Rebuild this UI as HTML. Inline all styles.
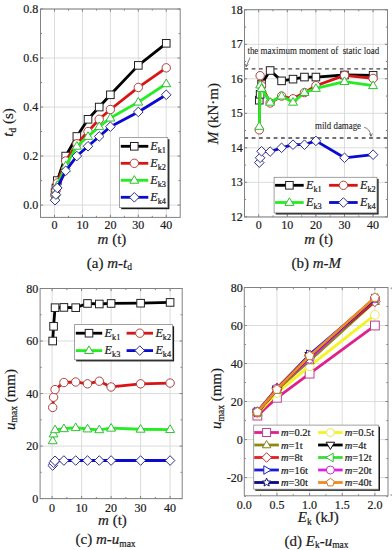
<!DOCTYPE html><html><head><meta charset="utf-8"><style>html,body{margin:0;padding:0;background:#fff}svg{display:block}text{font-family:"Liberation Serif",serif;stroke:#222;stroke-width:0.2px;paint-order:stroke}</style></head><body>
<svg width="392" height="550" viewBox="0 0 392 550">
<rect width="392" height="550" fill="#fff"/>
<line x1="54.5" y1="9" x2="54.5" y2="217.4" stroke="#d8d8d8" stroke-width="0.9"/>
<line x1="82.44" y1="9" x2="82.44" y2="217.4" stroke="#d8d8d8" stroke-width="0.9"/>
<line x1="110.38" y1="9" x2="110.38" y2="217.4" stroke="#d8d8d8" stroke-width="0.9"/>
<line x1="138.31" y1="9" x2="138.31" y2="217.4" stroke="#d8d8d8" stroke-width="0.9"/>
<line x1="166.25" y1="9" x2="166.25" y2="217.4" stroke="#d8d8d8" stroke-width="0.9"/>
<line x1="40.5" y1="205.1" x2="180.2" y2="205.1" stroke="#d8d8d8" stroke-width="0.9"/>
<line x1="40.5" y1="156.07" x2="180.2" y2="156.07" stroke="#d8d8d8" stroke-width="0.9"/>
<line x1="40.5" y1="107.05" x2="180.2" y2="107.05" stroke="#d8d8d8" stroke-width="0.9"/>
<line x1="40.5" y1="58.03" x2="180.2" y2="58.03" stroke="#d8d8d8" stroke-width="0.9"/>
<line x1="40.5" y1="9" x2="180.2" y2="9" stroke="#d8d8d8" stroke-width="0.9"/>
<polyline points="55.06,192.84 55.9,187.94 57.29,180.59 65.67,156.07 76.85,136.46 88.03,119.31 99.2,107.05 110.38,94.79 138.31,65.38 166.25,43.32" fill="none" stroke="#000000" stroke-width="2.8" stroke-linejoin="round"/>
<rect x="51.26" y="189.04" width="7.6" height="7.6" fill="#fff" stroke="#222222" stroke-width="1.0"/>
<rect x="52.1" y="184.14" width="7.6" height="7.6" fill="#fff" stroke="#222222" stroke-width="1.0"/>
<rect x="53.49" y="176.79" width="7.6" height="7.6" fill="#fff" stroke="#222222" stroke-width="1.0"/>
<rect x="61.88" y="152.27" width="7.6" height="7.6" fill="#fff" stroke="#222222" stroke-width="1.0"/>
<rect x="73.05" y="132.66" width="7.6" height="7.6" fill="#fff" stroke="#222222" stroke-width="1.0"/>
<rect x="84.23" y="115.51" width="7.6" height="7.6" fill="#fff" stroke="#222222" stroke-width="1.0"/>
<rect x="95.4" y="103.25" width="7.6" height="7.6" fill="#fff" stroke="#222222" stroke-width="1.0"/>
<rect x="106.58" y="90.99" width="7.6" height="7.6" fill="#fff" stroke="#222222" stroke-width="1.0"/>
<rect x="134.51" y="61.58" width="7.6" height="7.6" fill="#fff" stroke="#222222" stroke-width="1.0"/>
<rect x="162.45" y="39.52" width="7.6" height="7.6" fill="#fff" stroke="#222222" stroke-width="1.0"/>
<polyline points="55.06,195.29 55.9,190.39 57.29,183.04 65.67,160.98 76.85,143.82 88.03,131.56 99.2,119.31 110.38,109.5 138.31,87.44 166.25,67.83" fill="none" stroke="#d81414" stroke-width="2.8" stroke-linejoin="round"/>
<circle cx="55.06" cy="195.29" r="4.2" fill="#fff" stroke="#b04040" stroke-width="1.0"/>
<circle cx="55.9" cy="190.39" r="4.2" fill="#fff" stroke="#b04040" stroke-width="1.0"/>
<circle cx="57.29" cy="183.04" r="4.2" fill="#fff" stroke="#b04040" stroke-width="1.0"/>
<circle cx="65.67" cy="160.98" r="4.2" fill="#fff" stroke="#b04040" stroke-width="1.0"/>
<circle cx="76.85" cy="143.82" r="4.2" fill="#fff" stroke="#b04040" stroke-width="1.0"/>
<circle cx="88.03" cy="131.56" r="4.2" fill="#fff" stroke="#b04040" stroke-width="1.0"/>
<circle cx="99.2" cy="119.31" r="4.2" fill="#fff" stroke="#b04040" stroke-width="1.0"/>
<circle cx="110.38" cy="109.5" r="4.2" fill="#fff" stroke="#b04040" stroke-width="1.0"/>
<circle cx="138.31" cy="87.44" r="4.2" fill="#fff" stroke="#b04040" stroke-width="1.0"/>
<circle cx="166.25" cy="67.83" r="4.2" fill="#fff" stroke="#b04040" stroke-width="1.0"/>
<polyline points="55.06,197.75 55.9,192.84 57.29,185.49 65.67,165.88 76.85,146.27 88.03,136.46 99.2,126.66 110.38,118.08 138.31,102.15 166.25,83.76" fill="none" stroke="#22ee22" stroke-width="2.8" stroke-linejoin="round"/>
<polygon points="55.06,193.04 59.53,200.66 50.59,200.66" fill="#fff" stroke="#30c030" stroke-width="1.0" stroke-linejoin="miter"/>
<polygon points="55.9,188.14 60.37,195.76 51.43,195.76" fill="#fff" stroke="#30c030" stroke-width="1.0" stroke-linejoin="miter"/>
<polygon points="57.29,180.79 61.76,188.41 52.82,188.41" fill="#fff" stroke="#30c030" stroke-width="1.0" stroke-linejoin="miter"/>
<polygon points="65.67,161.18 70.14,168.8 61.21,168.8" fill="#fff" stroke="#30c030" stroke-width="1.0" stroke-linejoin="miter"/>
<polygon points="76.85,141.57 81.32,149.19 72.38,149.19" fill="#fff" stroke="#30c030" stroke-width="1.0" stroke-linejoin="miter"/>
<polygon points="88.03,131.76 92.49,139.38 83.56,139.38" fill="#fff" stroke="#30c030" stroke-width="1.0" stroke-linejoin="miter"/>
<polygon points="99.2,121.96 103.67,129.58 94.73,129.58" fill="#fff" stroke="#30c030" stroke-width="1.0" stroke-linejoin="miter"/>
<polygon points="110.38,113.38 114.84,121 105.91,121" fill="#fff" stroke="#30c030" stroke-width="1.0" stroke-linejoin="miter"/>
<polygon points="138.31,97.44 142.78,105.06 133.84,105.06" fill="#fff" stroke="#30c030" stroke-width="1.0" stroke-linejoin="miter"/>
<polygon points="166.25,79.06 170.72,86.68 161.78,86.68" fill="#fff" stroke="#30c030" stroke-width="1.0" stroke-linejoin="miter"/>
<polyline points="55.06,200.2 55.9,194.56 57.29,187.94 65.67,170.78 76.85,156.07 88.03,146.27 99.2,136.46 110.38,126.66 138.31,111.95 166.25,94.79" fill="none" stroke="#0a0ad0" stroke-width="2.8" stroke-linejoin="round"/>
<polygon points="55.06,195.4 59.86,200.2 55.06,205 50.26,200.2" fill="#fff" stroke="#303090" stroke-width="1.0" stroke-linejoin="miter"/>
<polygon points="55.9,189.76 60.7,194.56 55.9,199.36 51.1,194.56" fill="#fff" stroke="#303090" stroke-width="1.0" stroke-linejoin="miter"/>
<polygon points="57.29,183.14 62.09,187.94 57.29,192.74 52.49,187.94" fill="#fff" stroke="#303090" stroke-width="1.0" stroke-linejoin="miter"/>
<polygon points="65.67,165.98 70.47,170.78 65.67,175.58 60.88,170.78" fill="#fff" stroke="#303090" stroke-width="1.0" stroke-linejoin="miter"/>
<polygon points="76.85,151.27 81.65,156.07 76.85,160.88 72.05,156.07" fill="#fff" stroke="#303090" stroke-width="1.0" stroke-linejoin="miter"/>
<polygon points="88.03,141.47 92.83,146.27 88.03,151.07 83.23,146.27" fill="#fff" stroke="#303090" stroke-width="1.0" stroke-linejoin="miter"/>
<polygon points="99.2,131.66 104,136.46 99.2,141.26 94.4,136.46" fill="#fff" stroke="#303090" stroke-width="1.0" stroke-linejoin="miter"/>
<polygon points="110.38,121.86 115.17,126.66 110.38,131.46 105.58,126.66" fill="#fff" stroke="#303090" stroke-width="1.0" stroke-linejoin="miter"/>
<polygon points="138.31,107.15 143.11,111.95 138.31,116.75 133.51,111.95" fill="#fff" stroke="#303090" stroke-width="1.0" stroke-linejoin="miter"/>
<polygon points="166.25,89.99 171.05,94.79 166.25,99.59 161.45,94.79" fill="#fff" stroke="#303090" stroke-width="1.0" stroke-linejoin="miter"/>
<rect x="40.5" y="9" width="139.7" height="208.4" fill="none" stroke="#828282" stroke-width="1"/>
<path d="M54.5 217.4v-2.6M54.5 9v2.6M82.44 217.4v-2.6M82.44 9v2.6M110.38 217.4v-2.6M110.38 9v2.6M138.31 217.4v-2.6M138.31 9v2.6M166.25 217.4v-2.6M166.25 9v2.6M68.47 217.4v-1.6M68.47 9v1.6M96.41 217.4v-1.6M96.41 9v1.6M124.34 217.4v-1.6M124.34 9v1.6M152.28 217.4v-1.6M152.28 9v1.6M40.5 205.1h2.6M180.2 205.1h-2.6M40.5 156.07h2.6M180.2 156.07h-2.6M40.5 107.05h2.6M180.2 107.05h-2.6M40.5 58.03h2.6M180.2 58.03h-2.6M40.5 9h2.6M180.2 9h-2.6M40.5 180.59h1.6M180.2 180.59h-1.6M40.5 131.56h1.6M180.2 131.56h-1.6M40.5 82.54h1.6M180.2 82.54h-1.6M40.5 33.51h1.6M180.2 33.51h-1.6" stroke="#828282" stroke-width="1" fill="none"/>
<text x="54.5" y="228.5" font-size="12" text-anchor="middle" fill="#1a1a1a">0</text>
<text x="82.44" y="228.5" font-size="12" text-anchor="middle" fill="#1a1a1a">10</text>
<text x="110.38" y="228.5" font-size="12" text-anchor="middle" fill="#1a1a1a">20</text>
<text x="138.31" y="228.5" font-size="12" text-anchor="middle" fill="#1a1a1a">30</text>
<text x="166.25" y="228.5" font-size="12" text-anchor="middle" fill="#1a1a1a">40</text>
<text x="38.3" y="209.1" font-size="12" text-anchor="end" fill="#1a1a1a">0.0</text>
<text x="38.3" y="160.07" font-size="12" text-anchor="end" fill="#1a1a1a">0.2</text>
<text x="38.3" y="111.05" font-size="12" text-anchor="end" fill="#1a1a1a">0.4</text>
<text x="38.3" y="62.03" font-size="12" text-anchor="end" fill="#1a1a1a">0.6</text>
<text x="38.3" y="13" font-size="12" text-anchor="end" fill="#1a1a1a">0.8</text>
<rect x="121.2" y="139.2" width="48.2" height="70" fill="#1a1a1a"/><rect x="119.6" y="137.6" width="48.2" height="70" fill="#fff" stroke="#8a8a8a" stroke-width="0.8"/>
<polyline points="120.8,146.3 148.3,146.3" fill="none" stroke="#000000" stroke-width="2.8" stroke-linejoin="round"/>
<rect x="130.5" y="142.5" width="7.6" height="7.6" fill="#fff" stroke="#222222" stroke-width="1.0"/>
<text x="150.2" y="149.8" font-size="12.2" fill="#1a1a1a"><tspan font-style="italic">E</tspan><tspan font-size="8.3" dy="3.3">k1</tspan></text>
<polyline points="120.8,163.3 148.3,163.3" fill="none" stroke="#d81414" stroke-width="2.8" stroke-linejoin="round"/>
<circle cx="134.3" cy="163.3" r="4.2" fill="#fff" stroke="#b04040" stroke-width="1.0"/>
<text x="150.2" y="166.8" font-size="12.2" fill="#1a1a1a"><tspan font-style="italic">E</tspan><tspan font-size="8.3" dy="3.3">k2</tspan></text>
<polyline points="120.8,180.3 148.3,180.3" fill="none" stroke="#22ee22" stroke-width="2.8" stroke-linejoin="round"/>
<polygon points="134.3,175.6 138.77,183.22 129.83,183.22" fill="#fff" stroke="#30c030" stroke-width="1.0" stroke-linejoin="miter"/>
<text x="150.2" y="183.8" font-size="12.2" fill="#1a1a1a"><tspan font-style="italic">E</tspan><tspan font-size="8.3" dy="3.3">k3</tspan></text>
<polyline points="120.8,197.3 148.3,197.3" fill="none" stroke="#0a0ad0" stroke-width="2.8" stroke-linejoin="round"/>
<polygon points="134.3,192.5 139.1,197.3 134.3,202.1 129.5,197.3" fill="#fff" stroke="#303090" stroke-width="1.0" stroke-linejoin="miter"/>
<text x="150.2" y="200.8" font-size="12.2" fill="#1a1a1a"><tspan font-style="italic">E</tspan><tspan font-size="8.3" dy="3.3">k4</tspan></text>
<text x="0" y="0" font-size="15" fill="#1a1a1a" text-anchor="middle" transform="translate(13.0 122.5) rotate(-90)"><tspan font-style="italic">t</tspan><tspan font-size="9.5" dy="2.5">d</tspan><tspan dy="-2.5"> (s)</tspan></text>
<text x="112" y="243.8" font-size="15" fill="#1a1a1a" text-anchor="middle"><tspan font-style="italic">m</tspan> (t)</text>
<text x="86.8" y="267.8" font-size="15" fill="#1a1a1a">(a) <tspan font-style="italic">m</tspan>-<tspan font-style="italic">t</tspan><tspan font-size="9.5" dy="2.5">d</tspan></text>
<line x1="258.7" y1="9.7" x2="258.7" y2="217" stroke="#d8d8d8" stroke-width="0.9"/>
<line x1="287.3" y1="9.7" x2="287.3" y2="217" stroke="#d8d8d8" stroke-width="0.9"/>
<line x1="315.9" y1="9.7" x2="315.9" y2="217" stroke="#d8d8d8" stroke-width="0.9"/>
<line x1="344.5" y1="9.7" x2="344.5" y2="217" stroke="#d8d8d8" stroke-width="0.9"/>
<line x1="373.1" y1="9.7" x2="373.1" y2="217" stroke="#d8d8d8" stroke-width="0.9"/>
<line x1="244.5" y1="216.8" x2="387.5" y2="216.8" stroke="#d8d8d8" stroke-width="0.9"/>
<line x1="244.5" y1="182.3" x2="387.5" y2="182.3" stroke="#d8d8d8" stroke-width="0.9"/>
<line x1="244.5" y1="147.8" x2="387.5" y2="147.8" stroke="#d8d8d8" stroke-width="0.9"/>
<line x1="244.5" y1="113.3" x2="387.5" y2="113.3" stroke="#d8d8d8" stroke-width="0.9"/>
<line x1="244.5" y1="78.8" x2="387.5" y2="78.8" stroke="#d8d8d8" stroke-width="0.9"/>
<line x1="244.5" y1="44.3" x2="387.5" y2="44.3" stroke="#d8d8d8" stroke-width="0.9"/>
<line x1="244.5" y1="9.8" x2="387.5" y2="9.8" stroke="#d8d8d8" stroke-width="0.9"/>
<line x1="244.5" y1="68.9" x2="387.5" y2="68.9" stroke="#444" stroke-width="1.3" stroke-dasharray="3.8 3.54" stroke-dashoffset="0.2"/>
<line x1="244.5" y1="138" x2="387.5" y2="138" stroke="#444" stroke-width="1.3" stroke-dasharray="3.8 3.54" stroke-dashoffset="0.2"/>
<polyline points="259.27,100.19 260.13,94.32 261.56,83.98 270.14,70.52 281.58,80.87 293.02,79.14 304.46,77.07 315.9,77.07 344.5,75 373.1,75.35" fill="none" stroke="#000000" stroke-width="2.8" stroke-linejoin="round"/>
<rect x="255.47" y="96.39" width="7.6" height="7.6" fill="#fff" stroke="#222222" stroke-width="1.0"/>
<rect x="256.33" y="90.52" width="7.6" height="7.6" fill="#fff" stroke="#222222" stroke-width="1.0"/>
<rect x="257.76" y="80.18" width="7.6" height="7.6" fill="#fff" stroke="#222222" stroke-width="1.0"/>
<rect x="266.34" y="66.72" width="7.6" height="7.6" fill="#fff" stroke="#222222" stroke-width="1.0"/>
<rect x="277.78" y="77.07" width="7.6" height="7.6" fill="#fff" stroke="#222222" stroke-width="1.0"/>
<rect x="289.22" y="75.34" width="7.6" height="7.6" fill="#fff" stroke="#222222" stroke-width="1.0"/>
<rect x="300.66" y="73.27" width="7.6" height="7.6" fill="#fff" stroke="#222222" stroke-width="1.0"/>
<rect x="312.1" y="73.27" width="7.6" height="7.6" fill="#fff" stroke="#222222" stroke-width="1.0"/>
<rect x="340.7" y="71.2" width="7.6" height="7.6" fill="#fff" stroke="#222222" stroke-width="1.0"/>
<rect x="369.3" y="71.55" width="7.6" height="7.6" fill="#fff" stroke="#222222" stroke-width="1.0"/>
<polyline points="259.27,129.86 260.13,75.69 261.56,85.7 270.14,102.95 281.58,96.05 293.02,98.81 304.46,92.6 315.9,85.7 344.5,75.35 373.1,78.45" fill="none" stroke="#d81414" stroke-width="2.8" stroke-linejoin="round"/>
<circle cx="259.27" cy="129.86" r="4.2" fill="#fff" stroke="#b04040" stroke-width="1.0"/>
<circle cx="260.13" cy="75.69" r="4.2" fill="#fff" stroke="#b04040" stroke-width="1.0"/>
<circle cx="261.56" cy="85.7" r="4.2" fill="#fff" stroke="#b04040" stroke-width="1.0"/>
<circle cx="270.14" cy="102.95" r="4.2" fill="#fff" stroke="#b04040" stroke-width="1.0"/>
<circle cx="281.58" cy="96.05" r="4.2" fill="#fff" stroke="#b04040" stroke-width="1.0"/>
<circle cx="293.02" cy="98.81" r="4.2" fill="#fff" stroke="#b04040" stroke-width="1.0"/>
<circle cx="304.46" cy="92.6" r="4.2" fill="#fff" stroke="#b04040" stroke-width="1.0"/>
<circle cx="315.9" cy="85.7" r="4.2" fill="#fff" stroke="#b04040" stroke-width="1.0"/>
<circle cx="344.5" cy="75.35" r="4.2" fill="#fff" stroke="#b04040" stroke-width="1.0"/>
<circle cx="373.1" cy="78.45" r="4.2" fill="#fff" stroke="#b04040" stroke-width="1.0"/>
<polyline points="259.27,126.41 260.13,85.01 261.56,88.46 270.14,102.26 281.58,96.05 293.02,102.26 304.46,92.6 315.9,88.46 344.5,81.56 373.1,85.7" fill="none" stroke="#22ee22" stroke-width="2.8" stroke-linejoin="round"/>
<polygon points="259.27,121.71 263.74,129.33 254.8,129.33" fill="#fff" stroke="#30c030" stroke-width="1.0" stroke-linejoin="miter"/>
<polygon points="260.13,80.31 264.6,87.93 255.66,87.93" fill="#fff" stroke="#30c030" stroke-width="1.0" stroke-linejoin="miter"/>
<polygon points="261.56,83.76 266.03,91.38 257.09,91.38" fill="#fff" stroke="#30c030" stroke-width="1.0" stroke-linejoin="miter"/>
<polygon points="270.14,97.56 274.61,105.18 265.67,105.18" fill="#fff" stroke="#30c030" stroke-width="1.0" stroke-linejoin="miter"/>
<polygon points="281.58,91.35 286.05,98.97 277.11,98.97" fill="#fff" stroke="#30c030" stroke-width="1.0" stroke-linejoin="miter"/>
<polygon points="293.02,97.56 297.49,105.18 288.55,105.18" fill="#fff" stroke="#30c030" stroke-width="1.0" stroke-linejoin="miter"/>
<polygon points="304.46,87.9 308.93,95.52 299.99,95.52" fill="#fff" stroke="#30c030" stroke-width="1.0" stroke-linejoin="miter"/>
<polygon points="315.9,83.76 320.37,91.38 311.43,91.38" fill="#fff" stroke="#30c030" stroke-width="1.0" stroke-linejoin="miter"/>
<polygon points="344.5,76.86 348.97,84.48 340.03,84.48" fill="#fff" stroke="#30c030" stroke-width="1.0" stroke-linejoin="miter"/>
<polygon points="373.1,81 377.57,88.62 368.63,88.62" fill="#fff" stroke="#30c030" stroke-width="1.0" stroke-linejoin="miter"/>
<polyline points="259.27,162.63 260.13,157.8 261.56,151.25 270.14,151.59 281.58,147.8 293.02,144.69 304.46,144.69 315.9,140.9 344.5,157.8 373.1,154.7" fill="none" stroke="#0a0ad0" stroke-width="2.8" stroke-linejoin="round"/>
<polygon points="259.27,157.83 264.07,162.63 259.27,167.43 254.47,162.63" fill="#fff" stroke="#303090" stroke-width="1.0" stroke-linejoin="miter"/>
<polygon points="260.13,153 264.93,157.8 260.13,162.6 255.33,157.8" fill="#fff" stroke="#303090" stroke-width="1.0" stroke-linejoin="miter"/>
<polygon points="261.56,146.45 266.36,151.25 261.56,156.05 256.76,151.25" fill="#fff" stroke="#303090" stroke-width="1.0" stroke-linejoin="miter"/>
<polygon points="270.14,146.79 274.94,151.59 270.14,156.39 265.34,151.59" fill="#fff" stroke="#303090" stroke-width="1.0" stroke-linejoin="miter"/>
<polygon points="281.58,143 286.38,147.8 281.58,152.6 276.78,147.8" fill="#fff" stroke="#303090" stroke-width="1.0" stroke-linejoin="miter"/>
<polygon points="293.02,139.89 297.82,144.69 293.02,149.49 288.22,144.69" fill="#fff" stroke="#303090" stroke-width="1.0" stroke-linejoin="miter"/>
<polygon points="304.46,139.89 309.26,144.69 304.46,149.49 299.66,144.69" fill="#fff" stroke="#303090" stroke-width="1.0" stroke-linejoin="miter"/>
<polygon points="315.9,136.1 320.7,140.9 315.9,145.7 311.1,140.9" fill="#fff" stroke="#303090" stroke-width="1.0" stroke-linejoin="miter"/>
<polygon points="344.5,153 349.3,157.8 344.5,162.6 339.7,157.8" fill="#fff" stroke="#303090" stroke-width="1.0" stroke-linejoin="miter"/>
<polygon points="373.1,149.9 377.9,154.7 373.1,159.5 368.3,154.7" fill="#fff" stroke="#303090" stroke-width="1.0" stroke-linejoin="miter"/>
<rect x="244.5" y="9.7" width="143" height="207.3" fill="none" stroke="#828282" stroke-width="1"/>
<path d="M258.7 217v-2.6M258.7 9.7v2.6M287.3 217v-2.6M287.3 9.7v2.6M315.9 217v-2.6M315.9 9.7v2.6M344.5 217v-2.6M344.5 9.7v2.6M373.1 217v-2.6M373.1 9.7v2.6M273 217v-1.6M273 9.7v1.6M301.6 217v-1.6M301.6 9.7v1.6M330.2 217v-1.6M330.2 9.7v1.6M358.8 217v-1.6M358.8 9.7v1.6M244.5 216.8h2.6M387.5 216.8h-2.6M244.5 182.3h2.6M387.5 182.3h-2.6M244.5 147.8h2.6M387.5 147.8h-2.6M244.5 113.3h2.6M387.5 113.3h-2.6M244.5 78.8h2.6M387.5 78.8h-2.6M244.5 44.3h2.6M387.5 44.3h-2.6M244.5 9.8h2.6M387.5 9.8h-2.6M244.5 199.55h1.6M387.5 199.55h-1.6M244.5 165.05h1.6M387.5 165.05h-1.6M244.5 130.55h1.6M387.5 130.55h-1.6M244.5 96.05h1.6M387.5 96.05h-1.6M244.5 61.55h1.6M387.5 61.55h-1.6M244.5 27.05h1.6M387.5 27.05h-1.6" stroke="#828282" stroke-width="1" fill="none"/>
<text x="258.7" y="228.5" font-size="12" text-anchor="middle" fill="#1a1a1a">0</text>
<text x="287.3" y="228.5" font-size="12" text-anchor="middle" fill="#1a1a1a">10</text>
<text x="315.9" y="228.5" font-size="12" text-anchor="middle" fill="#1a1a1a">20</text>
<text x="344.5" y="228.5" font-size="12" text-anchor="middle" fill="#1a1a1a">30</text>
<text x="373.1" y="228.5" font-size="12" text-anchor="middle" fill="#1a1a1a">40</text>
<text x="242.8" y="220.8" font-size="12" text-anchor="end" fill="#1a1a1a">12</text>
<text x="242.8" y="186.3" font-size="12" text-anchor="end" fill="#1a1a1a">13</text>
<text x="242.8" y="151.8" font-size="12" text-anchor="end" fill="#1a1a1a">14</text>
<text x="242.8" y="117.3" font-size="12" text-anchor="end" fill="#1a1a1a">15</text>
<text x="242.8" y="82.8" font-size="12" text-anchor="end" fill="#1a1a1a">16</text>
<text x="242.8" y="48.3" font-size="12" text-anchor="end" fill="#1a1a1a">17</text>
<text x="242.8" y="13.8" font-size="12" text-anchor="end" fill="#1a1a1a">18</text>
<text x="247.4" y="54.4" font-size="10.3" text-anchor="start" fill="#2a2a2a" textLength="131.8" lengthAdjust="spacingAndGlyphs" style="stroke-width:0.12px">the maximum moment of&#160; static load</text>
<text x="315" y="129.4" font-size="10.3" text-anchor="start" fill="#2a2a2a" textLength="46" lengthAdjust="spacingAndGlyphs" style="stroke-width:0.12px">mild damage</text>
<path d="M250 57.5 L246.2 66.5 M244.9 63.6 L246.2 66.8 L248.3 64.4" stroke="#444" stroke-width="0.7" fill="none"/>
<path d="M364.2 127.4 Q369.8 128.4 371.0 136.0 M369.4 133.6 L371.0 136.4 L372.3 133.4" stroke="#444" stroke-width="0.7" fill="none"/>
<rect x="275.7" y="178.9" width="102.9" height="35.6" fill="#1a1a1a"/><rect x="274.1" y="177.3" width="102.9" height="35.6" fill="#fff" stroke="#8a8a8a" stroke-width="0.8"/>
<polyline points="275.1,185.3 303.7,185.3" fill="none" stroke="#000000" stroke-width="2.8" stroke-linejoin="round"/>
<rect x="285.6" y="181.5" width="7.6" height="7.6" fill="#fff" stroke="#222222" stroke-width="1.0"/>
<text x="306" y="188.8" font-size="12.2" fill="#1a1a1a"><tspan font-style="italic">E</tspan><tspan font-size="8.3" dy="3.3">k1</tspan></text>
<polyline points="329.1,185.3 357.7,185.3" fill="none" stroke="#d81414" stroke-width="2.8" stroke-linejoin="round"/>
<circle cx="343.4" cy="185.3" r="4.2" fill="#fff" stroke="#b04040" stroke-width="1.0"/>
<text x="360" y="188.8" font-size="12.2" fill="#1a1a1a"><tspan font-style="italic">E</tspan><tspan font-size="8.3" dy="3.3">k2</tspan></text>
<polyline points="275.1,202.5 303.7,202.5" fill="none" stroke="#22ee22" stroke-width="2.8" stroke-linejoin="round"/>
<polygon points="289.4,197.8 293.87,205.42 284.93,205.42" fill="#fff" stroke="#30c030" stroke-width="1.0" stroke-linejoin="miter"/>
<text x="306" y="206" font-size="12.2" fill="#1a1a1a"><tspan font-style="italic">E</tspan><tspan font-size="8.3" dy="3.3">k3</tspan></text>
<polyline points="329.1,202.5 357.7,202.5" fill="none" stroke="#0a0ad0" stroke-width="2.8" stroke-linejoin="round"/>
<polygon points="343.4,197.7 348.2,202.5 343.4,207.3 338.6,202.5" fill="#fff" stroke="#303090" stroke-width="1.0" stroke-linejoin="miter"/>
<text x="360" y="206" font-size="12.2" fill="#1a1a1a"><tspan font-style="italic">E</tspan><tspan font-size="8.3" dy="3.3">k4</tspan></text>
<text x="0" y="0" font-size="15" fill="#1a1a1a" text-anchor="middle" transform="translate(217.7 113.7) rotate(-90)"><tspan font-style="italic">M</tspan> (kN&#183;m)</text>
<text x="318.7" y="243.8" font-size="15" fill="#1a1a1a" text-anchor="middle"><tspan font-style="italic">m</tspan> (t)</text>
<text x="316.2" y="267.8" font-size="15" fill="#1a1a1a" text-anchor="middle">(b) <tspan font-style="italic">m</tspan>-<tspan font-style="italic">M</tspan></text>
<line x1="52.1" y1="288.5" x2="52.1" y2="498.6" stroke="#d8d8d8" stroke-width="0.9"/>
<line x1="81.6" y1="288.5" x2="81.6" y2="498.6" stroke="#d8d8d8" stroke-width="0.9"/>
<line x1="111.1" y1="288.5" x2="111.1" y2="498.6" stroke="#d8d8d8" stroke-width="0.9"/>
<line x1="140.6" y1="288.5" x2="140.6" y2="498.6" stroke="#d8d8d8" stroke-width="0.9"/>
<line x1="170.1" y1="288.5" x2="170.1" y2="498.6" stroke="#d8d8d8" stroke-width="0.9"/>
<line x1="40.1" y1="498.6" x2="182.2" y2="498.6" stroke="#d8d8d8" stroke-width="0.9"/>
<line x1="40.1" y1="446.08" x2="182.2" y2="446.08" stroke="#d8d8d8" stroke-width="0.9"/>
<line x1="40.1" y1="393.55" x2="182.2" y2="393.55" stroke="#d8d8d8" stroke-width="0.9"/>
<line x1="40.1" y1="341.02" x2="182.2" y2="341.02" stroke="#d8d8d8" stroke-width="0.9"/>
<line x1="40.1" y1="288.5" x2="182.2" y2="288.5" stroke="#d8d8d8" stroke-width="0.9"/>
<polyline points="52.69,341.02 53.58,326.32 55.05,307.67 63.9,307.41 75.7,307.67 87.5,303.47 99.3,303.99 111.1,303.47 140.6,303.21 170.1,302.42" fill="none" stroke="#000000" stroke-width="2.8" stroke-linejoin="round"/>
<rect x="48.89" y="337.22" width="7.6" height="7.6" fill="#fff" stroke="#222222" stroke-width="1.0"/>
<rect x="49.78" y="322.52" width="7.6" height="7.6" fill="#fff" stroke="#222222" stroke-width="1.0"/>
<rect x="51.25" y="303.87" width="7.6" height="7.6" fill="#fff" stroke="#222222" stroke-width="1.0"/>
<rect x="60.1" y="303.61" width="7.6" height="7.6" fill="#fff" stroke="#222222" stroke-width="1.0"/>
<rect x="71.9" y="303.87" width="7.6" height="7.6" fill="#fff" stroke="#222222" stroke-width="1.0"/>
<rect x="83.7" y="299.67" width="7.6" height="7.6" fill="#fff" stroke="#222222" stroke-width="1.0"/>
<rect x="95.5" y="300.19" width="7.6" height="7.6" fill="#fff" stroke="#222222" stroke-width="1.0"/>
<rect x="107.3" y="299.67" width="7.6" height="7.6" fill="#fff" stroke="#222222" stroke-width="1.0"/>
<rect x="136.8" y="299.41" width="7.6" height="7.6" fill="#fff" stroke="#222222" stroke-width="1.0"/>
<rect x="166.3" y="298.62" width="7.6" height="7.6" fill="#fff" stroke="#222222" stroke-width="1.0"/>
<polyline points="52.69,407.47 53.58,397.23 55.05,389.61 63.9,382.52 75.7,381.99 87.5,383.83 99.3,381.21 111.1,386.98 140.6,383.83 170.1,383.05" fill="none" stroke="#d81414" stroke-width="2.8" stroke-linejoin="round"/>
<circle cx="52.69" cy="407.47" r="4.2" fill="#fff" stroke="#b04040" stroke-width="1.0"/>
<circle cx="53.58" cy="397.23" r="4.2" fill="#fff" stroke="#b04040" stroke-width="1.0"/>
<circle cx="55.05" cy="389.61" r="4.2" fill="#fff" stroke="#b04040" stroke-width="1.0"/>
<circle cx="63.9" cy="382.52" r="4.2" fill="#fff" stroke="#b04040" stroke-width="1.0"/>
<circle cx="75.7" cy="381.99" r="4.2" fill="#fff" stroke="#b04040" stroke-width="1.0"/>
<circle cx="87.5" cy="383.83" r="4.2" fill="#fff" stroke="#b04040" stroke-width="1.0"/>
<circle cx="99.3" cy="381.21" r="4.2" fill="#fff" stroke="#b04040" stroke-width="1.0"/>
<circle cx="111.1" cy="386.98" r="4.2" fill="#fff" stroke="#b04040" stroke-width="1.0"/>
<circle cx="140.6" cy="383.83" r="4.2" fill="#fff" stroke="#b04040" stroke-width="1.0"/>
<circle cx="170.1" cy="383.05" r="4.2" fill="#fff" stroke="#b04040" stroke-width="1.0"/>
<polyline points="52.69,440.82 53.58,433.99 55.05,429.79 63.9,428.74 75.7,427.69 87.5,429 99.3,429.79 111.1,428.22 140.6,429.27 170.1,429.53" fill="none" stroke="#22ee22" stroke-width="2.8" stroke-linejoin="round"/>
<polygon points="52.69,436.12 57.16,443.74 48.22,443.74" fill="#fff" stroke="#30c030" stroke-width="1.0" stroke-linejoin="miter"/>
<polygon points="53.58,429.29 58.04,436.91 49.11,436.91" fill="#fff" stroke="#30c030" stroke-width="1.0" stroke-linejoin="miter"/>
<polygon points="55.05,425.09 59.52,432.71 50.58,432.71" fill="#fff" stroke="#30c030" stroke-width="1.0" stroke-linejoin="miter"/>
<polygon points="63.9,424.04 68.37,431.66 59.43,431.66" fill="#fff" stroke="#30c030" stroke-width="1.0" stroke-linejoin="miter"/>
<polygon points="75.7,422.99 80.17,430.61 71.23,430.61" fill="#fff" stroke="#30c030" stroke-width="1.0" stroke-linejoin="miter"/>
<polygon points="87.5,424.3 91.97,431.92 83.03,431.92" fill="#fff" stroke="#30c030" stroke-width="1.0" stroke-linejoin="miter"/>
<polygon points="99.3,425.09 103.77,432.71 94.83,432.71" fill="#fff" stroke="#30c030" stroke-width="1.0" stroke-linejoin="miter"/>
<polygon points="111.1,423.51 115.57,431.13 106.63,431.13" fill="#fff" stroke="#30c030" stroke-width="1.0" stroke-linejoin="miter"/>
<polygon points="140.6,424.56 145.07,432.18 136.13,432.18" fill="#fff" stroke="#30c030" stroke-width="1.0" stroke-linejoin="miter"/>
<polygon points="170.1,424.83 174.57,432.45 165.63,432.45" fill="#fff" stroke="#30c030" stroke-width="1.0" stroke-linejoin="miter"/>
<polyline points="52.69,465.51 53.58,462.88 55.05,460.78 63.9,460.52 75.7,460.52 87.5,460.52 99.3,460.52 111.1,460.52 140.6,460.52 170.1,460.52" fill="none" stroke="#0a0ad0" stroke-width="2.8" stroke-linejoin="round"/>
<polygon points="52.69,460.71 57.49,465.51 52.69,470.31 47.89,465.51" fill="#fff" stroke="#303090" stroke-width="1.0" stroke-linejoin="miter"/>
<polygon points="53.58,458.08 58.38,462.88 53.58,467.68 48.78,462.88" fill="#fff" stroke="#303090" stroke-width="1.0" stroke-linejoin="miter"/>
<polygon points="55.05,455.98 59.85,460.78 55.05,465.58 50.25,460.78" fill="#fff" stroke="#303090" stroke-width="1.0" stroke-linejoin="miter"/>
<polygon points="63.9,455.72 68.7,460.52 63.9,465.32 59.1,460.52" fill="#fff" stroke="#303090" stroke-width="1.0" stroke-linejoin="miter"/>
<polygon points="75.7,455.72 80.5,460.52 75.7,465.32 70.9,460.52" fill="#fff" stroke="#303090" stroke-width="1.0" stroke-linejoin="miter"/>
<polygon points="87.5,455.72 92.3,460.52 87.5,465.32 82.7,460.52" fill="#fff" stroke="#303090" stroke-width="1.0" stroke-linejoin="miter"/>
<polygon points="99.3,455.72 104.1,460.52 99.3,465.32 94.5,460.52" fill="#fff" stroke="#303090" stroke-width="1.0" stroke-linejoin="miter"/>
<polygon points="111.1,455.72 115.9,460.52 111.1,465.32 106.3,460.52" fill="#fff" stroke="#303090" stroke-width="1.0" stroke-linejoin="miter"/>
<polygon points="140.6,455.72 145.4,460.52 140.6,465.32 135.8,460.52" fill="#fff" stroke="#303090" stroke-width="1.0" stroke-linejoin="miter"/>
<polygon points="170.1,455.72 174.9,460.52 170.1,465.32 165.3,460.52" fill="#fff" stroke="#303090" stroke-width="1.0" stroke-linejoin="miter"/>
<rect x="40.1" y="288.5" width="142.1" height="210.1" fill="none" stroke="#828282" stroke-width="1"/>
<path d="M52.1 498.6v-2.6M52.1 288.5v2.6M81.6 498.6v-2.6M81.6 288.5v2.6M111.1 498.6v-2.6M111.1 288.5v2.6M140.6 498.6v-2.6M140.6 288.5v2.6M170.1 498.6v-2.6M170.1 288.5v2.6M66.85 498.6v-1.6M66.85 288.5v1.6M96.35 498.6v-1.6M96.35 288.5v1.6M125.85 498.6v-1.6M125.85 288.5v1.6M155.35 498.6v-1.6M155.35 288.5v1.6M40.1 498.6h2.6M182.2 498.6h-2.6M40.1 446.08h2.6M182.2 446.08h-2.6M40.1 393.55h2.6M182.2 393.55h-2.6M40.1 341.02h2.6M182.2 341.02h-2.6M40.1 288.5h2.6M182.2 288.5h-2.6M40.1 472.34h1.6M182.2 472.34h-1.6M40.1 419.81h1.6M182.2 419.81h-1.6M40.1 367.29h1.6M182.2 367.29h-1.6M40.1 314.76h1.6M182.2 314.76h-1.6" stroke="#828282" stroke-width="1" fill="none"/>
<text x="52.1" y="511.5" font-size="12" text-anchor="middle" fill="#1a1a1a">0</text>
<text x="81.6" y="511.5" font-size="12" text-anchor="middle" fill="#1a1a1a">10</text>
<text x="111.1" y="511.5" font-size="12" text-anchor="middle" fill="#1a1a1a">20</text>
<text x="140.6" y="511.5" font-size="12" text-anchor="middle" fill="#1a1a1a">30</text>
<text x="170.1" y="511.5" font-size="12" text-anchor="middle" fill="#1a1a1a">40</text>
<text x="38.3" y="502.6" font-size="12" text-anchor="end" fill="#1a1a1a">0</text>
<text x="38.3" y="450.08" font-size="12" text-anchor="end" fill="#1a1a1a">20</text>
<text x="38.3" y="397.55" font-size="12" text-anchor="end" fill="#1a1a1a">40</text>
<text x="38.3" y="345.02" font-size="12" text-anchor="end" fill="#1a1a1a">60</text>
<text x="38.3" y="292.5" font-size="12" text-anchor="end" fill="#1a1a1a">80</text>
<rect x="76.2" y="326.2" width="97.9" height="35.2" fill="#1a1a1a"/><rect x="74.6" y="324.6" width="97.9" height="35.2" fill="#fff" stroke="#8a8a8a" stroke-width="0.8"/>
<polyline points="75.8,333.2 102.2,333.2" fill="none" stroke="#000000" stroke-width="2.8" stroke-linejoin="round"/>
<rect x="85.2" y="329.4" width="7.6" height="7.6" fill="#fff" stroke="#222222" stroke-width="1.0"/>
<text x="104.6" y="336.7" font-size="12.2" fill="#1a1a1a"><tspan font-style="italic">E</tspan><tspan font-size="8.3" dy="3.3">k1</tspan></text>
<polyline points="126.6,333.2 153,333.2" fill="none" stroke="#d81414" stroke-width="2.8" stroke-linejoin="round"/>
<circle cx="139.8" cy="333.2" r="4.2" fill="#fff" stroke="#b04040" stroke-width="1.0"/>
<text x="155.4" y="336.7" font-size="12.2" fill="#1a1a1a"><tspan font-style="italic">E</tspan><tspan font-size="8.3" dy="3.3">k2</tspan></text>
<polyline points="75.8,350.6 102.2,350.6" fill="none" stroke="#22ee22" stroke-width="2.8" stroke-linejoin="round"/>
<polygon points="89,345.9 93.47,353.52 84.53,353.52" fill="#fff" stroke="#30c030" stroke-width="1.0" stroke-linejoin="miter"/>
<text x="104.6" y="354.1" font-size="12.2" fill="#1a1a1a"><tspan font-style="italic">E</tspan><tspan font-size="8.3" dy="3.3">k3</tspan></text>
<polyline points="126.6,350.6 153,350.6" fill="none" stroke="#0a0ad0" stroke-width="2.8" stroke-linejoin="round"/>
<polygon points="139.8,345.8 144.6,350.6 139.8,355.4 135,350.6" fill="#fff" stroke="#303090" stroke-width="1.0" stroke-linejoin="miter"/>
<text x="155.4" y="354.1" font-size="12.2" fill="#1a1a1a"><tspan font-style="italic">E</tspan><tspan font-size="8.3" dy="3.3">k4</tspan></text>
<text x="0" y="0" font-size="15" fill="#1a1a1a" text-anchor="middle" transform="translate(14.5 399.5) rotate(-90)"><tspan font-style="italic">u</tspan><tspan font-size="9.5" dy="2.5">max</tspan><tspan dy="-2.5"> (mm)</tspan></text>
<text x="112.5" y="524.8" font-size="15" fill="#1a1a1a" text-anchor="middle"><tspan font-style="italic">m</tspan> (t)</text>
<text x="75.5" y="544" font-size="15" fill="#1a1a1a">(c) <tspan font-style="italic">m</tspan>-<tspan font-style="italic">u</tspan><tspan font-size="9.5" dy="2.5">max</tspan></text>
<line x1="276.95" y1="287.5" x2="276.95" y2="495.8" stroke="#d8d8d8" stroke-width="0.9"/>
<line x1="309.6" y1="287.5" x2="309.6" y2="495.8" stroke="#d8d8d8" stroke-width="0.9"/>
<line x1="342.25" y1="287.5" x2="342.25" y2="495.8" stroke="#d8d8d8" stroke-width="0.9"/>
<line x1="374.9" y1="287.5" x2="374.9" y2="495.8" stroke="#d8d8d8" stroke-width="0.9"/>
<line x1="244.3" y1="477.6" x2="388" y2="477.6" stroke="#d8d8d8" stroke-width="0.9"/>
<line x1="244.3" y1="439.58" x2="388" y2="439.58" stroke="#d8d8d8" stroke-width="0.9"/>
<line x1="244.3" y1="401.56" x2="388" y2="401.56" stroke="#d8d8d8" stroke-width="0.9"/>
<line x1="244.3" y1="363.54" x2="388" y2="363.54" stroke="#d8d8d8" stroke-width="0.9"/>
<line x1="244.3" y1="325.52" x2="388" y2="325.52" stroke="#d8d8d8" stroke-width="0.9"/>
<line x1="244.3" y1="287.5" x2="388" y2="287.5" stroke="#d8d8d8" stroke-width="0.9"/>
<polyline points="257.36,415.63 276.95,397.76 309.6,373.62 374.9,325.52" fill="none" stroke="#e0208c" stroke-width="2.8" stroke-linejoin="round"/>
<rect x="252.96" y="411.23" width="8.8" height="8.8" fill="#fff" stroke="#c04090" stroke-width="1.0"/>
<rect x="272.55" y="393.36" width="8.8" height="8.8" fill="#fff" stroke="#c04090" stroke-width="1.0"/>
<rect x="305.2" y="369.22" width="8.8" height="8.8" fill="#fff" stroke="#c04090" stroke-width="1.0"/>
<rect x="370.5" y="321.12" width="8.8" height="8.8" fill="#fff" stroke="#c04090" stroke-width="1.0"/>
<polyline points="257.36,413.73 276.95,392.82 309.6,366.2 374.9,314.87" fill="none" stroke="#f4f422" stroke-width="2.8" stroke-linejoin="round"/>
<circle cx="257.36" cy="413.73" r="4.4" fill="#fff" stroke="#e8e860" stroke-width="1.0"/>
<circle cx="276.95" cy="392.82" r="4.4" fill="#fff" stroke="#e8e860" stroke-width="1.0"/>
<circle cx="309.6" cy="366.2" r="4.4" fill="#fff" stroke="#e8e860" stroke-width="1.0"/>
<circle cx="374.9" cy="314.87" r="4.4" fill="#fff" stroke="#e8e860" stroke-width="1.0"/>
<polyline points="257.36,412.21 276.95,389.77 309.6,360.69 374.9,301.38" fill="none" stroke="#8a8a10" stroke-width="2.8" stroke-linejoin="round"/>
<polygon points="257.36,407.28 262.04,415.26 252.68,415.26" fill="#fff" stroke="#808020" stroke-width="1.0" stroke-linejoin="miter"/>
<polygon points="276.95,384.85 281.63,392.83 272.27,392.83" fill="#fff" stroke="#808020" stroke-width="1.0" stroke-linejoin="miter"/>
<polygon points="309.6,355.76 314.28,363.74 304.92,363.74" fill="#fff" stroke="#808020" stroke-width="1.0" stroke-linejoin="miter"/>
<polygon points="374.9,296.45 379.58,304.43 370.22,304.43" fill="#fff" stroke="#808020" stroke-width="1.0" stroke-linejoin="miter"/>
<polyline points="257.36,412.02 276.95,389.01 309.6,355.56 374.9,301.19" fill="none" stroke="#000000" stroke-width="2.8" stroke-linejoin="round"/>
<polygon points="257.36,416.94 262.04,408.96 252.68,408.96" fill="#fff" stroke="#111111" stroke-width="1.0" stroke-linejoin="miter"/>
<polygon points="276.95,393.94 281.63,385.96 272.27,385.96" fill="#fff" stroke="#111111" stroke-width="1.0" stroke-linejoin="miter"/>
<polygon points="309.6,360.48 314.28,352.5 304.92,352.5" fill="#fff" stroke="#111111" stroke-width="1.0" stroke-linejoin="miter"/>
<polygon points="374.9,306.12 379.58,298.13 370.22,298.13" fill="#fff" stroke="#111111" stroke-width="1.0" stroke-linejoin="miter"/>
<polyline points="257.36,412.02 276.95,388.25 309.6,355.18 374.9,301.38" fill="none" stroke="#e02020" stroke-width="2.8" stroke-linejoin="round"/>
<polygon points="257.36,406.74 262.64,412.02 257.36,417.3 252.08,412.02" fill="#fff" stroke="#c03030" stroke-width="1.0" stroke-linejoin="miter"/>
<polygon points="276.95,382.97 282.23,388.25 276.95,393.53 271.67,388.25" fill="#fff" stroke="#c03030" stroke-width="1.0" stroke-linejoin="miter"/>
<polygon points="309.6,349.9 314.88,355.18 309.6,360.46 304.32,355.18" fill="#fff" stroke="#c03030" stroke-width="1.0" stroke-linejoin="miter"/>
<polygon points="374.9,296.1 380.18,301.38 374.9,306.66 369.62,301.38" fill="#fff" stroke="#c03030" stroke-width="1.0" stroke-linejoin="miter"/>
<polyline points="257.36,412.02 276.95,389.2 309.6,356.51 374.9,298.34" fill="none" stroke="#33e033" stroke-width="2.8" stroke-linejoin="round"/>
<polygon points="252.43,412.02 260.42,407.33 260.42,416.7" fill="#fff" stroke="#30c030" stroke-width="1.0" stroke-linejoin="miter"/>
<polygon points="272.02,389.2 280.01,384.52 280.01,393.89" fill="#fff" stroke="#30c030" stroke-width="1.0" stroke-linejoin="miter"/>
<polygon points="304.67,356.51 312.66,351.82 312.66,361.19" fill="#fff" stroke="#30c030" stroke-width="1.0" stroke-linejoin="miter"/>
<polygon points="369.97,298.34 377.96,293.65 377.96,303.02" fill="#fff" stroke="#30c030" stroke-width="1.0" stroke-linejoin="miter"/>
<polyline points="257.36,412.02 276.95,389.77 309.6,354.61 374.9,298.72" fill="none" stroke="#1a1ae0" stroke-width="2.8" stroke-linejoin="round"/>
<polygon points="262.29,412.02 254.3,407.33 254.3,416.7" fill="#fff" stroke="#2020c0" stroke-width="1.0" stroke-linejoin="miter"/>
<polygon points="281.88,389.77 273.89,385.09 273.89,394.46" fill="#fff" stroke="#2020c0" stroke-width="1.0" stroke-linejoin="miter"/>
<polygon points="314.53,354.61 306.54,349.92 306.54,359.29" fill="#fff" stroke="#2020c0" stroke-width="1.0" stroke-linejoin="miter"/>
<polygon points="379.83,298.72 371.84,294.03 371.84,303.4" fill="#fff" stroke="#2020c0" stroke-width="1.0" stroke-linejoin="miter"/>
<polyline points="257.36,412.02 276.95,388.63 309.6,358.79 374.9,298.34" fill="none" stroke="#e020e0" stroke-width="2.8" stroke-linejoin="round"/>
<circle cx="257.36" cy="412.02" r="4.4" fill="#fff" stroke="#c030c0" stroke-width="1.0"/>
<circle cx="276.95" cy="388.63" r="4.4" fill="#fff" stroke="#c030c0" stroke-width="1.0"/>
<circle cx="309.6" cy="358.79" r="4.4" fill="#fff" stroke="#c030c0" stroke-width="1.0"/>
<circle cx="374.9" cy="298.34" r="4.4" fill="#fff" stroke="#c030c0" stroke-width="1.0"/>
<polyline points="257.36,412.02 276.95,389.39 309.6,356.51 374.9,298.15" fill="none" stroke="#0a0a80" stroke-width="2.8" stroke-linejoin="round"/>
<polygon points="257.36,407.18 258.64,410.25 261.96,410.52 259.43,412.69 260.2,415.93 257.36,414.19 254.52,415.93 255.29,412.69 252.76,410.52 256.08,410.25" fill="#fff" stroke="#101070" stroke-width="1.0" stroke-linejoin="miter"/>
<polygon points="276.95,384.55 278.23,387.63 281.55,387.9 279.02,390.07 279.79,393.31 276.95,391.57 274.11,393.31 274.88,390.07 272.35,387.9 275.67,387.63" fill="#fff" stroke="#101070" stroke-width="1.0" stroke-linejoin="miter"/>
<polygon points="309.6,351.67 310.88,354.74 314.2,355.01 311.67,357.18 312.44,360.42 309.6,358.68 306.76,360.42 307.53,357.18 305,355.01 308.32,354.74" fill="#fff" stroke="#101070" stroke-width="1.0" stroke-linejoin="miter"/>
<polygon points="374.9,293.31 376.18,296.38 379.5,296.65 376.97,298.82 377.74,302.06 374.9,300.32 372.06,302.06 372.83,298.82 370.3,296.65 373.62,296.38" fill="#fff" stroke="#101070" stroke-width="1.0" stroke-linejoin="miter"/>
<polyline points="257.36,412.02 276.95,389.58 309.6,355.94 374.9,297.58" fill="none" stroke="#f08a20" stroke-width="2.8" stroke-linejoin="round"/>
<polygon points="257.36,407.4 261.75,410.59 260.08,415.75 254.64,415.75 252.97,410.59" fill="#fff" stroke="#d07a30" stroke-width="1.0" stroke-linejoin="miter"/>
<polygon points="276.95,384.96 281.34,388.16 279.67,393.32 274.23,393.32 272.56,388.16" fill="#fff" stroke="#d07a30" stroke-width="1.0" stroke-linejoin="miter"/>
<polygon points="309.6,351.32 313.99,354.51 312.32,359.67 306.88,359.67 305.21,354.51" fill="#fff" stroke="#d07a30" stroke-width="1.0" stroke-linejoin="miter"/>
<polygon points="374.9,292.96 379.29,296.15 377.62,301.31 372.18,301.31 370.51,296.15" fill="#fff" stroke="#d07a30" stroke-width="1.0" stroke-linejoin="miter"/>
<rect x="244.3" y="287.5" width="143.7" height="208.3" fill="none" stroke="#828282" stroke-width="1"/>
<path d="M276.95 495.8v-2.6M276.95 287.5v2.6M309.6 495.8v-2.6M309.6 287.5v2.6M342.25 495.8v-2.6M342.25 287.5v2.6M374.9 495.8v-2.6M374.9 287.5v2.6M260.62 495.8v-1.6M260.62 287.5v1.6M293.27 495.8v-1.6M293.27 287.5v1.6M325.92 495.8v-1.6M325.92 287.5v1.6M358.57 495.8v-1.6M358.57 287.5v1.6M391.22 495.8v-1.6M391.22 287.5v1.6M244.3 477.6h2.6M388 477.6h-2.6M244.3 439.58h2.6M388 439.58h-2.6M244.3 401.56h2.6M388 401.56h-2.6M244.3 363.54h2.6M388 363.54h-2.6M244.3 325.52h2.6M388 325.52h-2.6M244.3 287.5h2.6M388 287.5h-2.6M244.3 496.61h1.6M388 496.61h-1.6M244.3 458.59h1.6M388 458.59h-1.6M244.3 420.57h1.6M388 420.57h-1.6M244.3 382.55h1.6M388 382.55h-1.6M244.3 344.53h1.6M388 344.53h-1.6M244.3 306.51h1.6M388 306.51h-1.6" stroke="#828282" stroke-width="1" fill="none"/>
<text x="244.3" y="508.5" font-size="12" text-anchor="middle" fill="#1a1a1a">0.0</text>
<text x="276.95" y="508.5" font-size="12" text-anchor="middle" fill="#1a1a1a">0.5</text>
<text x="309.6" y="508.5" font-size="12" text-anchor="middle" fill="#1a1a1a">1.0</text>
<text x="342.25" y="508.5" font-size="12" text-anchor="middle" fill="#1a1a1a">1.5</text>
<text x="374.9" y="508.5" font-size="12" text-anchor="middle" fill="#1a1a1a">2.0</text>
<text x="242.8" y="481.6" font-size="12" text-anchor="end" fill="#1a1a1a">-20</text>
<text x="242.8" y="443.58" font-size="12" text-anchor="end" fill="#1a1a1a">0</text>
<text x="242.8" y="405.56" font-size="12" text-anchor="end" fill="#1a1a1a">20</text>
<text x="242.8" y="367.54" font-size="12" text-anchor="end" fill="#1a1a1a">40</text>
<text x="242.8" y="329.52" font-size="12" text-anchor="end" fill="#1a1a1a">60</text>
<text x="242.8" y="291.5" font-size="12" text-anchor="end" fill="#1a1a1a">80</text>
<rect x="255.3" y="426.7" width="124.7" height="64.1" fill="#1a1a1a"/><rect x="253.7" y="425.1" width="124.7" height="64.1" fill="#fff" stroke="#8a8a8a" stroke-width="0.8"/>
<polyline points="254.3,432.5 278.9,432.5" fill="none" stroke="#e0208c" stroke-width="2.8" stroke-linejoin="round"/>
<rect x="262.6" y="428.5" width="8" height="8" fill="#fff" stroke="#c04090" stroke-width="1.0"/>
<text x="280.9" y="436.1" font-size="10.5" fill="#1a1a1a"><tspan font-style="italic">m</tspan>=0.2t</text>
<polyline points="318.1,432.5 342.7,432.5" fill="none" stroke="#f4f422" stroke-width="2.8" stroke-linejoin="round"/>
<circle cx="330.4" cy="432.5" r="4" fill="#fff" stroke="#e8e860" stroke-width="1.0"/>
<text x="344.7" y="436.1" font-size="10.5" fill="#1a1a1a"><tspan font-style="italic">m</tspan>=0.5t</text>
<polyline points="254.3,445 278.9,445" fill="none" stroke="#8a8a10" stroke-width="2.8" stroke-linejoin="round"/>
<polygon points="266.6,440.52 270.86,447.78 262.34,447.78" fill="#fff" stroke="#808020" stroke-width="1.0" stroke-linejoin="miter"/>
<text x="280.9" y="448.6" font-size="10.5" fill="#1a1a1a"><tspan font-style="italic">m</tspan>=1t</text>
<polyline points="318.1,445 342.7,445" fill="none" stroke="#000000" stroke-width="2.8" stroke-linejoin="round"/>
<polygon points="330.4,449.48 334.66,442.22 326.14,442.22" fill="#fff" stroke="#111111" stroke-width="1.0" stroke-linejoin="miter"/>
<text x="344.7" y="448.6" font-size="10.5" fill="#1a1a1a"><tspan font-style="italic">m</tspan>=4t</text>
<polyline points="254.3,457.5 278.9,457.5" fill="none" stroke="#e02020" stroke-width="2.8" stroke-linejoin="round"/>
<polygon points="266.6,452.7 271.4,457.5 266.6,462.3 261.8,457.5" fill="#fff" stroke="#c03030" stroke-width="1.0" stroke-linejoin="miter"/>
<text x="280.9" y="461.1" font-size="10.5" fill="#1a1a1a"><tspan font-style="italic">m</tspan>=8t</text>
<polyline points="318.1,457.5 342.7,457.5" fill="none" stroke="#33e033" stroke-width="2.8" stroke-linejoin="round"/>
<polygon points="325.92,457.5 333.18,453.24 333.18,461.76" fill="#fff" stroke="#30c030" stroke-width="1.0" stroke-linejoin="miter"/>
<text x="344.7" y="461.1" font-size="10.5" fill="#1a1a1a"><tspan font-style="italic">m</tspan>=12t</text>
<polyline points="254.3,470 278.9,470" fill="none" stroke="#1a1ae0" stroke-width="2.8" stroke-linejoin="round"/>
<polygon points="271.08,470 263.82,465.74 263.82,474.26" fill="#fff" stroke="#2020c0" stroke-width="1.0" stroke-linejoin="miter"/>
<text x="280.9" y="473.6" font-size="10.5" fill="#1a1a1a"><tspan font-style="italic">m</tspan>=16t</text>
<polyline points="318.1,470 342.7,470" fill="none" stroke="#e020e0" stroke-width="2.8" stroke-linejoin="round"/>
<circle cx="330.4" cy="470" r="4" fill="#fff" stroke="#c030c0" stroke-width="1.0"/>
<text x="344.7" y="473.6" font-size="10.5" fill="#1a1a1a"><tspan font-style="italic">m</tspan>=20t</text>
<polyline points="254.3,482.5 278.9,482.5" fill="none" stroke="#0a0a80" stroke-width="2.8" stroke-linejoin="round"/>
<polygon points="266.6,478.1 267.76,480.9 270.78,481.14 268.48,483.11 269.19,486.06 266.6,484.48 264.01,486.06 264.72,483.11 262.42,481.14 265.44,480.9" fill="#fff" stroke="#101070" stroke-width="1.0" stroke-linejoin="miter"/>
<text x="280.9" y="486.1" font-size="10.5" fill="#1a1a1a"><tspan font-style="italic">m</tspan>=30t</text>
<polyline points="318.1,482.5 342.7,482.5" fill="none" stroke="#f08a20" stroke-width="2.8" stroke-linejoin="round"/>
<polygon points="330.4,478.3 334.39,481.2 332.87,485.9 327.93,485.9 326.41,481.2" fill="#fff" stroke="#d07a30" stroke-width="1.0" stroke-linejoin="miter"/>
<text x="344.7" y="486.1" font-size="10.5" fill="#1a1a1a"><tspan font-style="italic">m</tspan>=40t</text>
<text x="0" y="0" font-size="15" fill="#1a1a1a" text-anchor="middle" transform="translate(221 398.5) rotate(-90)"><tspan font-style="italic">u</tspan><tspan font-size="9.5" dy="2.5">max</tspan><tspan dy="-2.5"> (mm)</tspan></text>
<text x="318.3" y="522" font-size="15" fill="#1a1a1a" text-anchor="middle"><tspan font-style="italic">E</tspan><tspan font-size="9.5" dy="2.5">k</tspan><tspan dy="-2.5"> (kJ)</tspan></text>
<text x="316.5" y="545.5" font-size="15" fill="#1a1a1a" text-anchor="middle">(d) <tspan font-style="italic">E</tspan><tspan font-size="9.5" dy="2.5">k</tspan><tspan dy="-2.5">-</tspan><tspan font-style="italic">u</tspan><tspan font-size="9.5" dy="2.5">max</tspan></text>
</svg></body></html>
